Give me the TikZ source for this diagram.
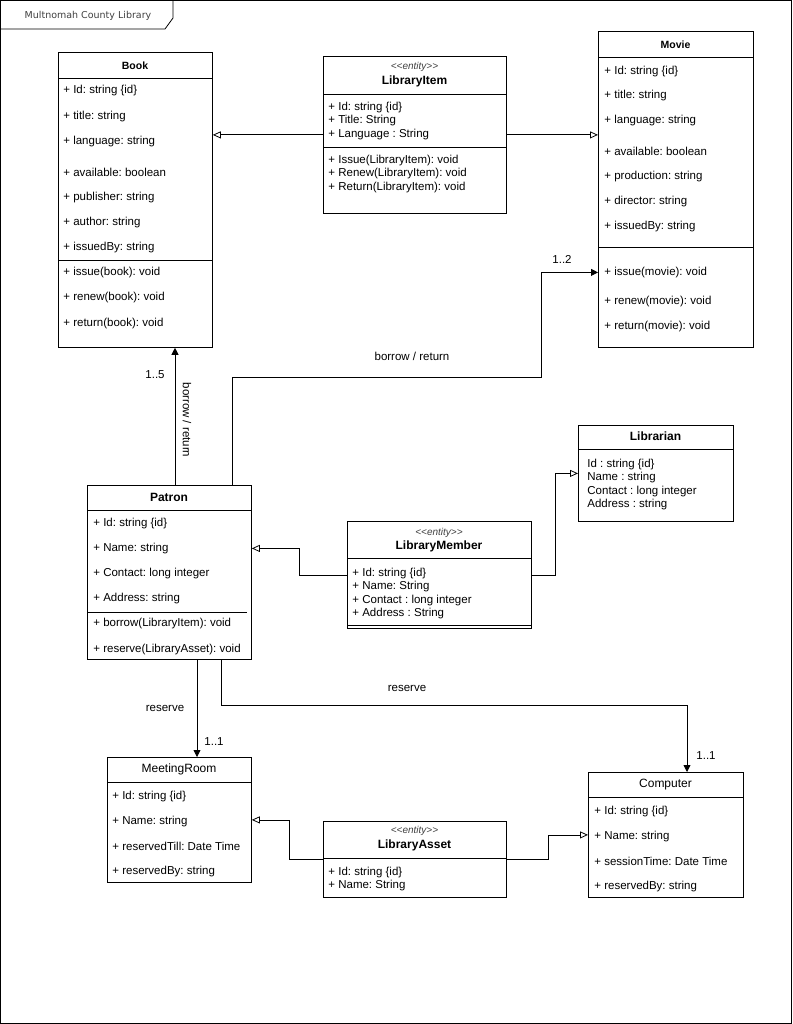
\documentclass[tikz,border=0pt]{standalone}
\usepackage{fontspec}
\setmainfont{Liberation Sans}
\newfontfamily\tabfont{DejaVu Sans}
\usetikzlibrary{arrows.meta}
\frenchspacing

\tikzset{
  cls/.style={draw, anchor=north west, inner sep=0pt},
  attr/.style={anchor=west, inner sep=0pt, yshift=-1.5pt, font=\fontsize{11.5}{13}\selectfont},
  ttl/.style={inner sep=0pt, font=\fontsize{12}{14}\selectfont\bfseries},
  stereo/.style={inner sep=0pt, text=black!75, font=\fontsize{10}{11}\selectfont\itshape},
  lbl/.style={inner sep=0pt, font=\fontsize{11.5}{13}\selectfont},
  gen/.style={-{Triangle[open,length=8pt,width=7pt]}},
  assoc/.style={-{Triangle[length=7pt,width=7pt]}},
}

\begin{document}
\begin{tikzpicture}[x=1pt,y=-1pt,line width=0.8pt]
\useasboundingbox (0,0) rectangle (792,1024);
\draw (0.5,0.5) rectangle (791.5,1023.5);
% frame tab
\draw (0.5,29) -- (165,29) -- (173,18) -- (173,0.5);
\node[inner sep=0pt, font=\tabfont\fontsize{9.5}{11}\selectfont, text=black!75] (frame) at (88,16) {Multnomah County Library};

% Book
\node[cls, minimum width=154pt, minimum height=295pt] (book) at (58,52) {};
\node[ttl, font=\fontsize{10.5}{12}\selectfont\bfseries] (book-t) at (135,66) {Book};
\draw (58,78) -- (212,78);
\draw (58,260) -- (212,260);
\foreach \y/\t [count=\i] in {89/+ Id: string \{id\}, 115/+ title: string, 140/+ language: string,
  171/+ available: boolean, 196/+ publisher: string, 221/+ author: string, 246/+ issuedBy: string,
  271/+ issue(book): void, 296/+ renew(book): void, 322/+ return(book): void}
  \node[attr, name=book-\i] at (63,\y) {\t};

% LibraryItem
\node[cls, minimum width=183pt, minimum height=157pt] (item) at (323,56) {};
\node[stereo] (item-s) at (414.5,67) {<{}<entity>{}>};
\node[ttl] (item-t) at (414.5,81) {LibraryItem};
\draw (323,94) -- (506,94);
\draw (323,147) -- (506,147);
\foreach \y/\t [count=\i] in {106/+ Id: string \{id\}, 119/+ Title: String, 133/+ Language : String,
  159/+ Issue(LibraryItem): void, 172/+ Renew(LibraryItem): void, 186/+ Return(LibraryItem): void}
  \node[attr, name=item-\i] at (328,\y) {\t};

% Movie
\node[cls, minimum width=155pt, minimum height=316pt] (movie) at (598,31) {};
\node[ttl, font=\fontsize{10.5}{12}\selectfont\bfseries] (movie-t) at (675.5,45) {Movie};
\draw (598,57) -- (753,57);
\draw (598,247) -- (753,247);
\foreach \y/\t [count=\i] in {70/+ Id: string \{id\}, 94/+ title: string, 119/+ language: string,
  150/+ available: boolean, 175/+ production: string, 200/+ director: string, 225/+ issuedBy: string,
  271/+ issue(movie): void, 300/+ renew(movie): void, 325/+ return(movie): void}
  \node[attr, name=movie-\i] at (604,\y) {\t};

% Patron
\node[cls, minimum width=164pt, minimum height=174pt] (patron) at (87,485) {};
\node[ttl] (patron-t) at (169,497) {Patron};
\draw (87,510) -- (251,510);
\draw (87,612) -- (247,612);
\foreach \y/\t [count=\i] in {522/+ Id: string \{id\}, 547/+ Name: string, 572/+ Contact: long integer,
  597/+ Address: string, 622/+ borrow(LibraryItem): void, 648/+ reserve(LibraryAsset): void}
  \node[attr, name=patron-\i] at (93,\y) {\t};

% LibraryMember
\node[cls, minimum width=184pt, minimum height=107pt] (member) at (347,521) {};
\node[stereo] (member-s) at (439,533) {<{}<entity>{}>};
\node[ttl] (member-t) at (439,546) {LibraryMember};
\draw (347,558) -- (531,558);
\draw (347,625) -- (531,625);
\foreach \y/\t [count=\i] in {572/+ Id: string \{id\}, 585/+ Name: String, 599/+ Contact : long integer,
  612/+ Address : String}
  \node[attr, name=member-\i] at (352,\y) {\t};

% Librarian
\node[cls, minimum width=155pt, minimum height=96pt] (librarian) at (578,425) {};
\node[ttl] (librarian-t) at (655.5,436) {Librarian};
\draw (578,449) -- (733,449);
\foreach \y/\t [count=\i] in {463/Id : string \{id\}, 476/Name : string, 490/Contact : long integer,
  503/Address : string}
  \node[attr, name=librarian-\i] at (587,\y) {\t};

% MeetingRoom
\node[cls, minimum width=144pt, minimum height=125pt] (room) at (107,757) {};
\node[lbl, font=\fontsize{12}{14}\selectfont] (room-t) at (179,769) {MeetingRoom};
\draw (107,782) -- (251,782);
\foreach \y/\t [count=\i] in {795/+ Id: string \{id\}, 820/+ Name: string, 845/+ reservedTill: Date Time,
  870/+ reservedBy: string}
  \node[attr, name=room-\i] at (112,\y) {\t};

% LibraryAsset
\node[cls, minimum width=183pt, minimum height=76pt] (asset) at (323,821) {};
\node[stereo] (asset-s) at (414.5,831) {<{}<entity>{}>};
\node[ttl] (asset-t) at (414.5,845) {LibraryAsset};
\draw (323,858) -- (506,858);
\foreach \y/\t [count=\i] in {871/+ Id: string \{id\}, 884/+ Name: String}
  \node[attr, name=asset-\i] at (328,\y) {\t};

% Computer
\node[cls, minimum width=155pt, minimum height=125pt] (computer) at (588,772) {};
\node[lbl, font=\fontsize{12}{14}\selectfont] (computer-t) at (665.5,785) {Computer};
\draw (588,797) -- (743,797);
\foreach \y/\t [count=\i] in {810/+ Id: string \{id\}, 835/+ Name: string, 860/+ sessionTime: Date Time,
  885/+ reservedBy: string}
  \node[attr, name=computer-\i] at (594,\y) {\t};

% generalisations
\draw[gen] (item.west) -- (item.west -| book.east);
\draw[gen] (item.east) -- (item.east -| movie.west);
\draw[gen] (member.west) -- ++(-48,0) |- ([yshift=24pt]patron.east);
\draw[gen] (member.east) -- ++(24,0) |- (librarian.west);
\draw[gen] (asset.west) -- ++(-34,0) |- (room.east);
\draw[gen] (asset.east) -- ++(42,0) |- (computer.west);

% associations
\draw[assoc] ([xshift=88pt]patron.north west) -- ([xshift=88pt]patron.north west |- book.south);
\draw[assoc] ([xshift=145pt]patron.north west) |- (541,377) |- ([yshift=-83pt]movie.west);
\draw[assoc] ([xshift=110pt]patron.south west) -- ([xshift=110pt]patron.south west |- room.north);
\draw[assoc] ([xshift=134pt]patron.south west) -- ++(0,46) -| ([xshift=99pt]computer.north west);

\node[lbl] (m-book) at (155,375) {1..5};
\node[lbl, rotate=-90] (r-book) at (187,420) {borrow / return};
\node[lbl] (r-movie) at (412,356) {borrow / return};
\node[lbl] (m-movie) at (562,259) {1..2};
\node[lbl] (r-room) at (165,708) {reserve};
\node[lbl] (m-room) at (214,742) {1..1};
\node[lbl] (r-comp) at (407,688) {reserve};
\node[lbl] (m-comp) at (706,756) {1..1};
\end{tikzpicture}
\end{document}
